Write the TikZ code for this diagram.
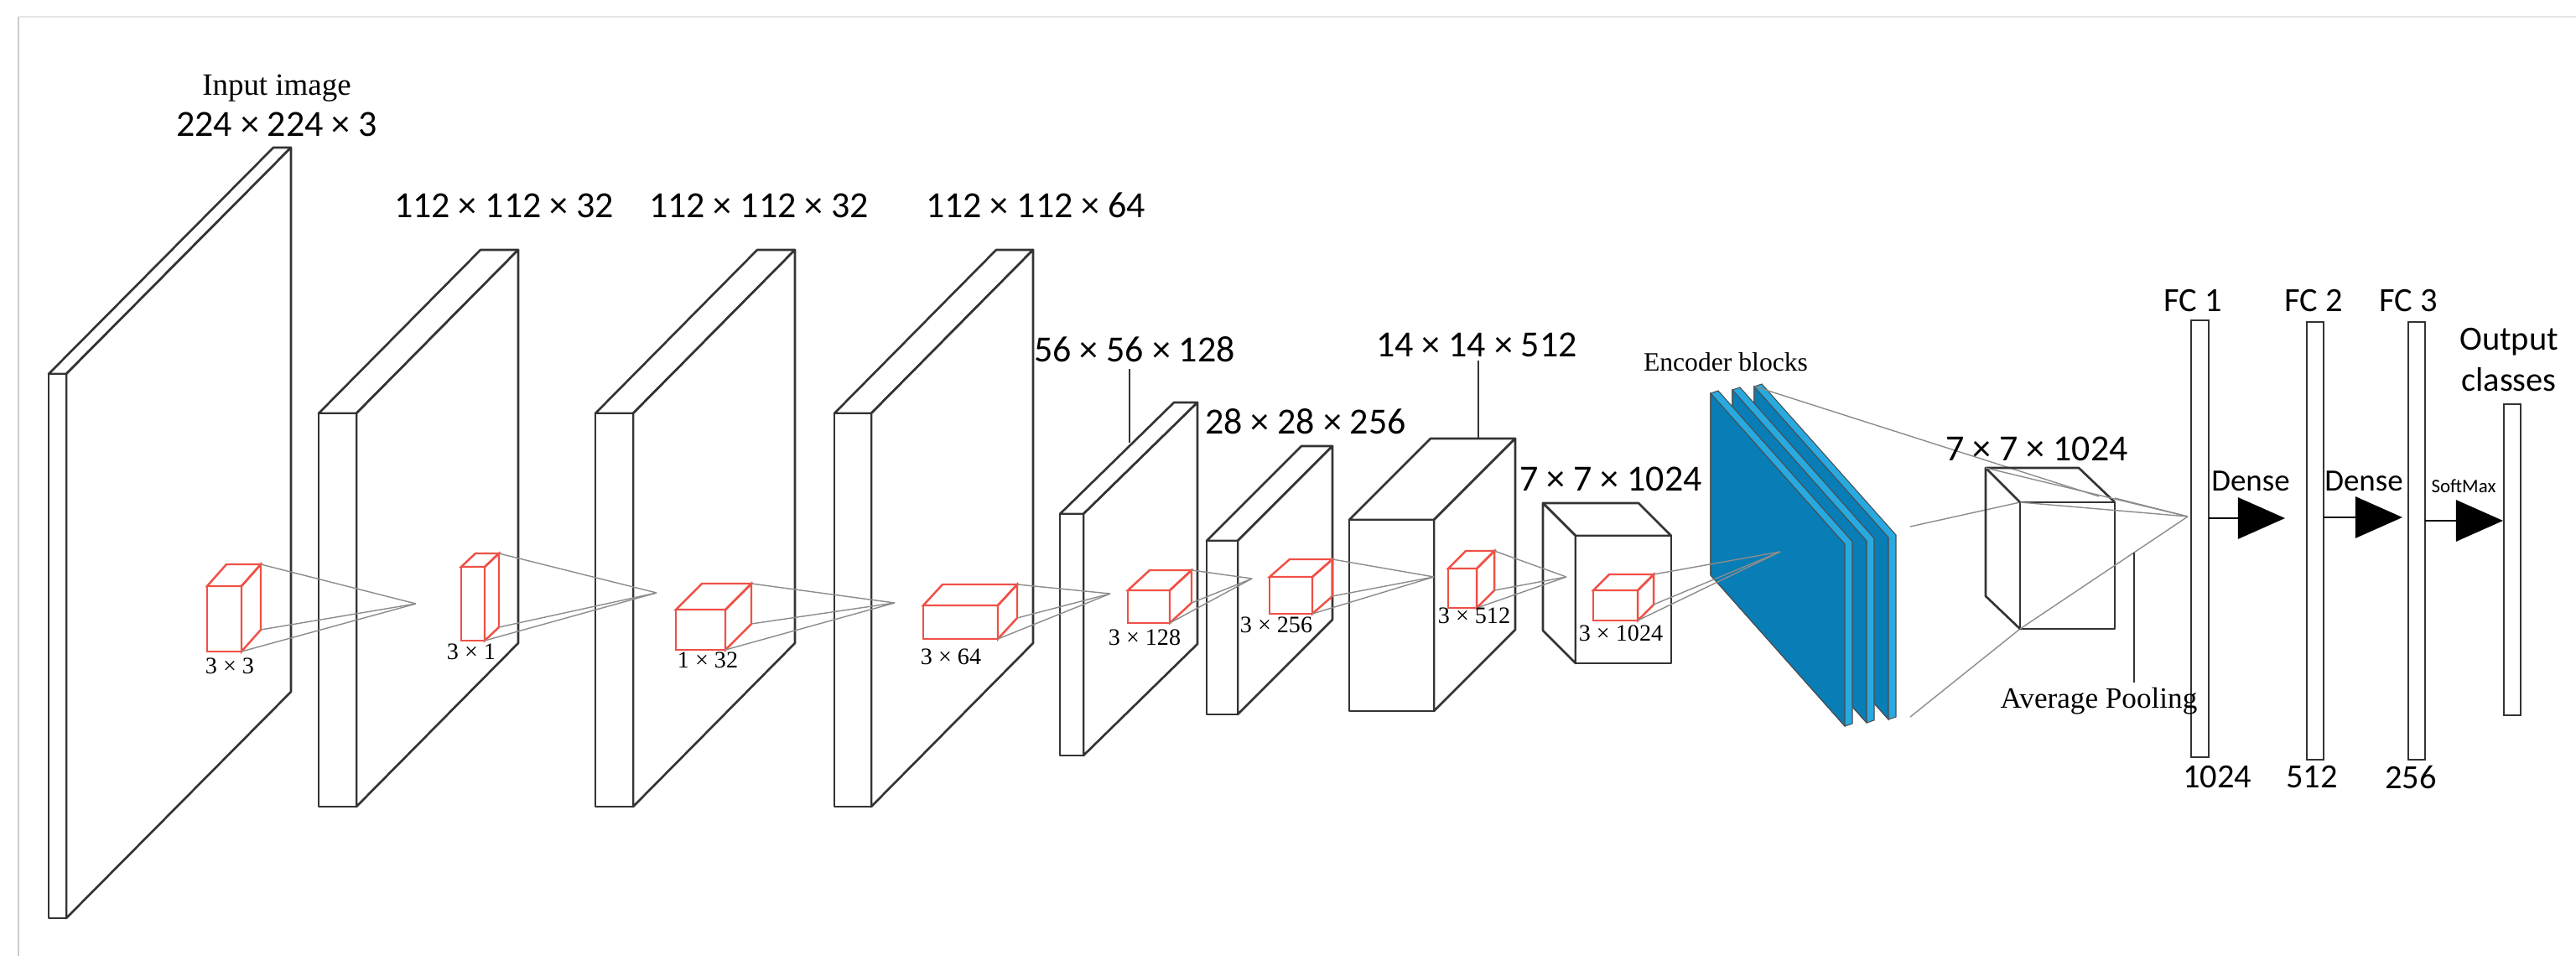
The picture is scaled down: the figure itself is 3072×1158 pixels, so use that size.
\documentclass[tikz,border=0pt]{standalone}
\usepackage{fontspec}
\setmainfont{Liberation Serif}
\newfontfamily\calfnt{Carlito}
\usetikzlibrary{arrows.meta}
\definecolor{enc}{RGB}{8,125,182}
\definecolor{encl}{RGB}{40,170,225}
\definecolor{kred}{RGB}{240,80,70}
\begin{document}
\begin{tikzpicture}[x=0.01cm,y=-0.01cm,
  plate/.style={draw=black!80,line width=0.75pt,fill=white,line join=round},
  kcube/.style={draw=kred,line width=0.7pt},
  ray/.style={draw=black!45,line width=0.4pt},
  dimlab/.style={font=\calfnt\fontsize{12.5}{14}\selectfont,inner sep=0},
  serlab/.style={font=\fontsize{10.5}{12}\selectfont,inner sep=0},
  klab/.style={font=\fontsize{8}{9}\selectfont,inner sep=0},
  fcbox/.style={draw=black!80,line width=0.75pt,fill=white},
  fclab/.style={font=\calfnt\fontsize{11.5}{13}\selectfont,inner sep=0},
  big/.style={-{Triangle[length=16pt,width=14pt]},line width=0.8pt}]
\useasboundingbox (0,0) rectangle (3072,1158);
\draw[black!20,line width=0.5pt] (22,20) -- (22,1140);
\draw[black!10,line width=0.5pt] (22,20) -- (3072,20);
\newcommand\slabbox[7][plate]{%
  \draw[#1] (#2,#3) -- ++(#6,#7) -- ++({#4-#2},0) -- (#4,#3) -- cycle;
  \draw[#1] (#4,#3) -- ++(#6,#7) -- ++(0,{#5-#3}) -- (#4,#5) -- cycle;
  \draw[#1] (#2,#3) rectangle (#4,#5);}
% layers
\slabbox{58}{446}{79}{1095}{268}{-270}
\slabbox{380}{493}{425}{962}{193}{-195}
\slabbox{710}{493}{755}{962}{193}{-195}
\slabbox{995}{493}{1039}{962}{193}{-195}
\slabbox{1264}{613}{1292}{901}{136}{-133}
\slabbox{1439}{645}{1476}{852}{113}{-113}
\slabbox{1609}{620}{1710}{848}{97}{-97}
% layer 8 (depth up-left)
\draw[plate] (1879,639) -- (1840,600) -- (1954,600) -- (1993,639) -- cycle;
\draw[plate] (1879,639) -- (1840,600) -- (1840,752) -- (1879,791) -- cycle;
\draw[plate] (1879,639) rectangle (1993,791);
% encoder blocks
\foreach \i in {2,1,0}{
  \pgfmathsetmacro\ex{2040+26*\i}\pgfmathsetmacro\ey{469-4*\i}
  \filldraw[fill=encl,draw=black!70,line width=0.3pt] (\ex,\ey) -- ++(9,-3) -- ++(160,180) -- ++(0,217) -- ++(-9,3) -- ++(-160,-180) -- cycle;
  \filldraw[fill=enc,draw=black!70,line width=0.3pt] (\ex,\ey) -- ++(160,180) -- ++(0,217) -- ++(-160,-180) -- cycle;}
% kernels
\slabbox[kcube]{247}{699}{288}{777}{23}{-26}
\slabbox[kcube]{550}{676}{578}{764}{17}{-16}
\slabbox[kcube]{806}{727}{865}{775}{31}{-31}
\slabbox[kcube]{1101}{722}{1190}{762}{23}{-25}
\slabbox[kcube]{1345}{704}{1395}{743}{26}{-24}
\slabbox[kcube]{1514}{688}{1565}{732}{24}{-21}
\slabbox[kcube]{1727}{678}{1761}{725}{21}{-21}
\slabbox[kcube]{1900}{704}{1953}{740}{19}{-19}
% rays
\foreach \x/\y/\X/\Y/\dx/\dy/\ax/\ay in {247/699/288/777/23/-26/496/720,550/676/578/764/17/-16/783/707,806/727/865/775/31/-31/1067/719,1101/722/1190/762/23/-25/1324/708,1345/704/1395/743/26/-24/1493/690,1514/688/1565/732/24/-21/1710/688,1727/678/1761/725/21/-21/1868/688,1900/704/1953/740/19/-19/2123/658}{
  \coordinate (apex) at (\ax,\ay);
  \draw[ray] ({\X+\dx},{\y+\dy}) -- (apex);
  \draw[ray] ({\X+\dx},{\Y+\dy}) -- (apex);
  \draw[ray] (\X,\Y) -- (apex);}
% encoder to pooled map
\draw[ray] (2093,461) -- (2503,592);
\draw[ray] (2278,628) -- (2409,599);
\draw[ray] (2278,855) -- (2409,750);
% pooled box
\draw[plate,fill=none] (2409,599) -- (2368,558) -- (2479,558) -- (2522,599);
\draw[plate,fill=none] (2368,558) -- (2368,711) -- (2409,750);
\draw[plate,fill=none] (2409,599) rectangle (2522,750);
\coordinate (fcin) at (2609,616);
\draw[ray] (2368,558) -- (fcin); \draw[ray] (2522,594) -- (fcin);
\draw[ray] (2409,599) -- (fcin); \draw[ray] (2409,750) -- (fcin);
\draw[black!80,line width=0.7pt] (2545,659) -- (2545,814);
% FC layers
\draw[fcbox] (2613,382) rectangle (2634,903);
\draw[fcbox] (2751,384) rectangle (2771,906);
\draw[fcbox] (2872,384) rectangle (2892,906);
\draw[fcbox] (2986,482) rectangle (3006,853);
\coordinate (f1) at (2634,618); \coordinate (f1e) at (2725,618);
\coordinate (f2) at (2771,617); \coordinate (f2e) at (2865,617);
\coordinate (f3) at (2892,621); \coordinate (f3e) at (2985,621);
\draw[big] (f1) -- (f1e); \draw[big] (f2) -- (f2e); \draw[big] (f3) -- (f3e);
% labels
\node[serlab] (t0) at (330,105) {Input image};
\node[dimlab] (t1) at (330,148) {224 × 224 × 3};
\node[dimlab] (t2) at (601,245) {112 × 112 × 32};
\node[dimlab] (t3) at (905,245) {112 × 112 × 32};
\node[dimlab] (t4) at (1235,245) {112 × 112 × 64};
\node[dimlab] (t5) at (1353,417) {56 × 56 × 128};
\node[dimlab] (t6) at (1557,503) {28 × 28 × 256};
\node[dimlab] (t7) at (1761,411) {14 × 14 × 512};
\node[dimlab] (t8) at (1921,571) {7 × 7 × 1024};
\node[dimlab] (t9) at (2429,535) {7 × 7 × 1024};
\draw[black!80,line width=0.7pt] (1347,440) -- (1347,528);
\draw[black!80,line width=0.7pt] (1763,430) -- (1763,523);
\node[font=\fontsize{9}{10}\selectfont,inner sep=0] (enc) at (2058,432) {Encoder blocks};
\node[serlab,font=\fontsize{10}{11}\selectfont] (ap) at (2503,836) {Average Pooling};
\node[klab] at (274,794) {3 × 3};
\node[klab] at (562,777) {3 × 1};
\node[klab] at (844,787) {1 × 32};
\node[klab] at (1134,783) {3 × 64};
\node[klab] at (1365,760) {3 × 128};
\node[klab] at (1522,745) {3 × 256};
\node[klab] at (1758,734) {3 × 512};
\node[klab] at (1933,755) {3 × 1024};
\node[fclab] at (2615,359) {FC 1};
\node[fclab] at (2759,359) {FC 2};
\node[fclab] at (2872,359) {FC 3};
\node[fclab] at (2644,927) {1024};
\node[fclab] at (2757,927) {512};
\node[fclab] at (2875,927) {256};
\node[fclab] at (2992,408) {Output};
\node[fclab] at (2992,453) {classes};
\node[fclab,font=\calfnt\fontsize{10.5}{12}\selectfont] at (2684,574) {Dense};
\node[fclab,font=\calfnt\fontsize{10.5}{12}\selectfont] at (2819,574) {Dense};
\node[fclab,font=\calfnt\fontsize{6.5}{7}\selectfont] at (2938,580) {SoftMax};
\end{tikzpicture}
\end{document}
